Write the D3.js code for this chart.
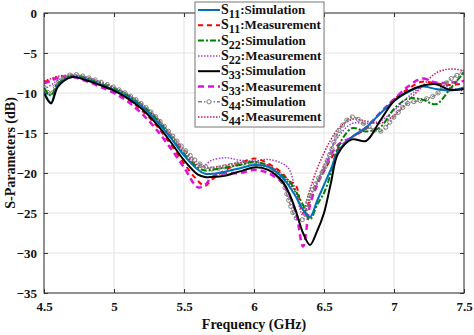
<!DOCTYPE html>
<html><head><meta charset="utf-8">
<script src="https://cdn.jsdelivr.net/npm/d3@7"></script>
<style>body{margin:0;background:#fff}svg{display:block}</style>
</head><body>
<svg id="c" width="474" height="335"></svg>
<script>
const freq = [4.5,4.55,4.6,4.7,4.8,4.9,5.0,5.1,5.2,5.3,5.4,5.5,5.6,5.65,5.7,5.8,5.9,6.0,6.1,6.2,6.25,6.3,6.35,6.4,6.45,6.5,6.55,6.6,6.7,6.8,6.9,7.0,7.1,7.2,7.3,7.4,7.5];
const s11Sim  = [-9.8,-11.2,-9.0,-8.0,-8.3,-8.9,-9.6,-10.5,-11.7,-13.4,-15.5,-17.8,-19.6,-20.1,-20.1,-19.8,-19.4,-19.0,-19.2,-20.5,-21.6,-23.0,-24.6,-25.5,-23.5,-21.5,-19.5,-17.3,-15.5,-14.3,-12.6,-11.0,-9.9,-9.2,-9.5,-9.7,-9.3];
const s11Meas = [-8.6,-8.4,-8.0,-7.9,-8.3,-9.0,-9.8,-10.8,-12.2,-14.0,-16.3,-18.8,-21.0,-21.6,-20.8,-19.6,-18.8,-18.2,-18.8,-20.0,-21.0,-21.6,-25.0,-23.5,-21.5,-19.8,-18.2,-17.0,-15.5,-14.5,-12.5,-10.8,-9.5,-8.6,-8.8,-9.0,-8.8];
const s22Sim  = [-9.4,-10.3,-8.8,-7.9,-8.2,-8.8,-9.5,-10.4,-11.6,-13.2,-15.4,-17.6,-19.3,-19.7,-19.6,-19.3,-19.0,-18.6,-19.1,-20.3,-21.0,-22.3,-24.0,-25.8,-24.0,-22.5,-20.0,-16.8,-14.4,-14.8,-14.3,-12.0,-10.7,-10.8,-11.4,-9.5,-7.4];
const s22Meas = [-9.5,-9.0,-8.4,-7.8,-8.0,-8.6,-9.3,-10.2,-11.4,-13.0,-15.2,-17.5,-19.3,-19.0,-18.4,-18.1,-18.4,-18.5,-18.3,-18.8,-19.5,-22.5,-25.3,-23.0,-21.2,-19.0,-17.0,-15.5,-13.8,-13.8,-13.5,-12.2,-10.5,-9.2,-8.8,-9.3,-9.8];
const s33Sim  = [-10.0,-11.3,-9.2,-8.0,-8.4,-9.0,-9.7,-10.7,-12.0,-13.8,-16.0,-18.4,-20.2,-20.5,-20.5,-20.3,-19.8,-19.3,-19.6,-21.0,-22.5,-24.8,-27.5,-29.0,-27.3,-25.0,-21.2,-17.6,-15.8,-16.0,-13.5,-11.0,-9.8,-9.1,-8.9,-9.6,-9.5];
const s33Meas = [-8.8,-8.5,-8.1,-8.0,-8.5,-9.2,-10.0,-11.1,-12.6,-14.5,-16.8,-19.3,-21.8,-21.5,-20.5,-20.0,-20.0,-19.6,-20.0,-21.2,-22.8,-25.0,-29.2,-24.0,-21.5,-19.5,-17.7,-16.5,-15.5,-14.3,-12.5,-10.8,-9.2,-8.2,-8.7,-8.7,-8.5];
const s44Sim  = [-9.3,-10.2,-8.6,-7.7,-8.0,-8.6,-9.3,-10.2,-11.4,-13.0,-15.0,-17.0,-18.7,-19.2,-19.5,-19.2,-18.8,-18.8,-19.3,-21.0,-23.5,-25.6,-25.8,-22.8,-21.0,-19.5,-17.3,-14.9,-13.0,-14.0,-14.8,-13.0,-11.3,-10.9,-10.2,-8.3,-7.4];
const s44Meas = [-8.5,-8.2,-7.9,-7.8,-8.1,-8.6,-9.3,-10.2,-11.4,-13.0,-15.0,-17.2,-19.0,-19.3,-19.3,-19.0,-18.7,-18.6,-19.0,-20.2,-21.3,-22.5,-24.5,-22.0,-19.5,-17.5,-15.8,-14.5,-13.3,-13.5,-13.8,-12.8,-11.0,-9.2,-7.5,-7.0,-7.2];
const xTicks = [4.5,5,5.5,6,6.5,7,7.5];
const yTicks = [0,-5,-10,-15,-20,-25,-30,-35];
const seriesSub = ["11","11","22","22","33","33","44","44"];
const seriesKind = ["Simulation","Measurement","Simulation","Measurement","Simulation","Measurement","Simulation","Measurement"];
const seriesVals = [s11Sim,s11Meas,s22Sim,s22Meas,s33Sim,s33Meas,s44Sim,s44Meas];

const styles = [
  {color:"#0072BD", dash:null, w:2},
  {color:"#FF0000", dash:"5,4", w:2},
  {color:"#008000", dash:"6,2,2,2", w:2},
  {color:"#A040D0", dash:"1.5,1.5", w:1.5},
  {color:"#000000", dash:null, w:2},
  {color:"#E010E0", dash:"6,4", w:2.5},
  {color:"#808080", dash:"4,2,1.5,2", w:1.5, marker:true},
  {color:"#D0105A", dash:"1.5,1.5", w:1.5}
];
// draw order roughly: measurement & grey under, black/blue on top
const drawOrder = [3,7,1,5,6,2,0,4];

const svg = d3.select("#c");
const L=44,R=464,T=13,B=293;
const x = d3.scaleLinear().domain([4.5,7.5]).range([L,R]);
const y = d3.scaleLinear().domain([-35,0]).range([B,T]);
const font = "'Liberation Serif','Times New Roman',serif";

// grid
const g = svg.append("g");
g.selectAll(".gx").data(xTicks).enter().append("line")
 .attr("x1",d=>x(d)).attr("x2",d=>x(d)).attr("y1",T).attr("y2",B)
 .attr("stroke","#e3e3e3").attr("stroke-width",1);
g.selectAll(".gy").data(yTicks).enter().append("line")
 .attr("y1",d=>y(d)).attr("y2",d=>y(d)).attr("x1",L).attr("x2",R)
 .attr("stroke","#e3e3e3").attr("stroke-width",1);

svg.append("clipPath").attr("id","clip").append("rect")
 .attr("x",L).attr("y",T).attr("width",R-L).attr("height",B-T);

const line = d3.line().x((d,i)=>x(freq[i])).y(d=>y(d)).curve(d3.curveCatmullRom.alpha(0.5));
const pl = svg.append("g").attr("clip-path","url(#clip)");
drawOrder.forEach(k=>{
  const st = styles[k];
  const p = pl.append("path").datum(seriesVals[k]).attr("d",line)
   .attr("fill","none").attr("stroke",st.color).attr("stroke-width",st.w)
   .attr("stroke-dasharray",st.dash).attr("stroke-linejoin","round");
  if(st.marker){
    const node = p.node(), len = node.getTotalLength();
    const pts = d3.range(0,len,6.5).map(l=>node.getPointAtLength(l));
    pl.selectAll(".mk").data(pts).enter().append("circle")
      .attr("cx",d=>d.x).attr("cy",d=>d.y).attr("r",2.1)
      .attr("fill","none").attr("stroke",st.color).attr("stroke-width",1);
  }
});

// axes box & ticks
const ax = svg.append("g");
ax.append("rect").attr("x",L).attr("y",T).attr("width",R-L).attr("height",B-T)
 .attr("fill","none").attr("stroke","#333").attr("stroke-width",1);
const xa = svg.append("g").attr("transform",`translate(0,${B})`)
 .call(d3.axisBottom(x).tickValues(xTicks).tickSizeInner(-4).tickSizeOuter(0).tickPadding(9).tickFormat(d3.format("")));
const xt = svg.append("g").attr("transform",`translate(0,${T})`)
 .call(d3.axisTop(x).tickValues(xTicks).tickSizeInner(-4).tickSizeOuter(0).tickFormat(""));
const ya = svg.append("g").attr("transform",`translate(${L},0)`)
 .call(d3.axisLeft(y).tickValues(yTicks).tickSizeInner(-4).tickSizeOuter(0).tickPadding(7).tickFormat(d3.format("")));
const yr = svg.append("g").attr("transform",`translate(${R},0)`)
 .call(d3.axisRight(y).tickValues(yTicks).tickSizeInner(-4).tickSizeOuter(0).tickFormat(""));
[xa,xt,ya,yr].forEach(a=>{
  a.select(".domain").remove();
  a.selectAll(".tick line").attr("stroke","#333");
  a.selectAll("text").attr("font-family",font).attr("font-weight","bold").attr("font-size",13).attr("fill","#111");
});

svg.append("text").attr("x",(L+R)/2).attr("y",329).attr("text-anchor","middle")
 .attr("font-family",font).attr("font-weight","bold").attr("font-size",14).attr("fill","#111")
 .text("Frequency (GHz)");
svg.append("text").attr("transform",`translate(15,${(T+B)/2}) rotate(-90)`).attr("text-anchor","middle")
 .attr("font-family",font).attr("font-weight","bold").attr("font-size",14).attr("fill","#111")
 .text("S-Parameters (dB)");

// legend
const lg = svg.append("g");
lg.append("rect").attr("x",195).attr("y",2).attr("width",129).attr("height",125)
 .attr("fill","#fff").attr("stroke","#777").attr("stroke-width",1);
seriesVals.forEach((v,i)=>{
  const st = styles[i];
  const cy = 10 + i*15.3;
  lg.append("line").attr("x1",198).attr("x2",220).attr("y1",cy).attr("y2",cy)
   .attr("stroke",st.color).attr("stroke-width",st.w).attr("stroke-dasharray",st.dash);
  if(st.marker) lg.append("circle").attr("cx",209).attr("cy",cy).attr("r",2.1)
   .attr("fill","#fff").attr("stroke",st.color).attr("stroke-width",1);
  const t = lg.append("text").attr("x",221).attr("y",cy+4)
   .attr("font-family",font).attr("font-weight","bold").attr("font-size",14).attr("fill","#111");
  t.append("tspan").text("S");
  t.append("tspan").attr("dy",4).attr("font-size",12).text(seriesSub[i]);
  t.append("tspan").attr("dy",-4).attr("font-size",13).text(":"+seriesKind[i]);
});
</script>
</body></html>
